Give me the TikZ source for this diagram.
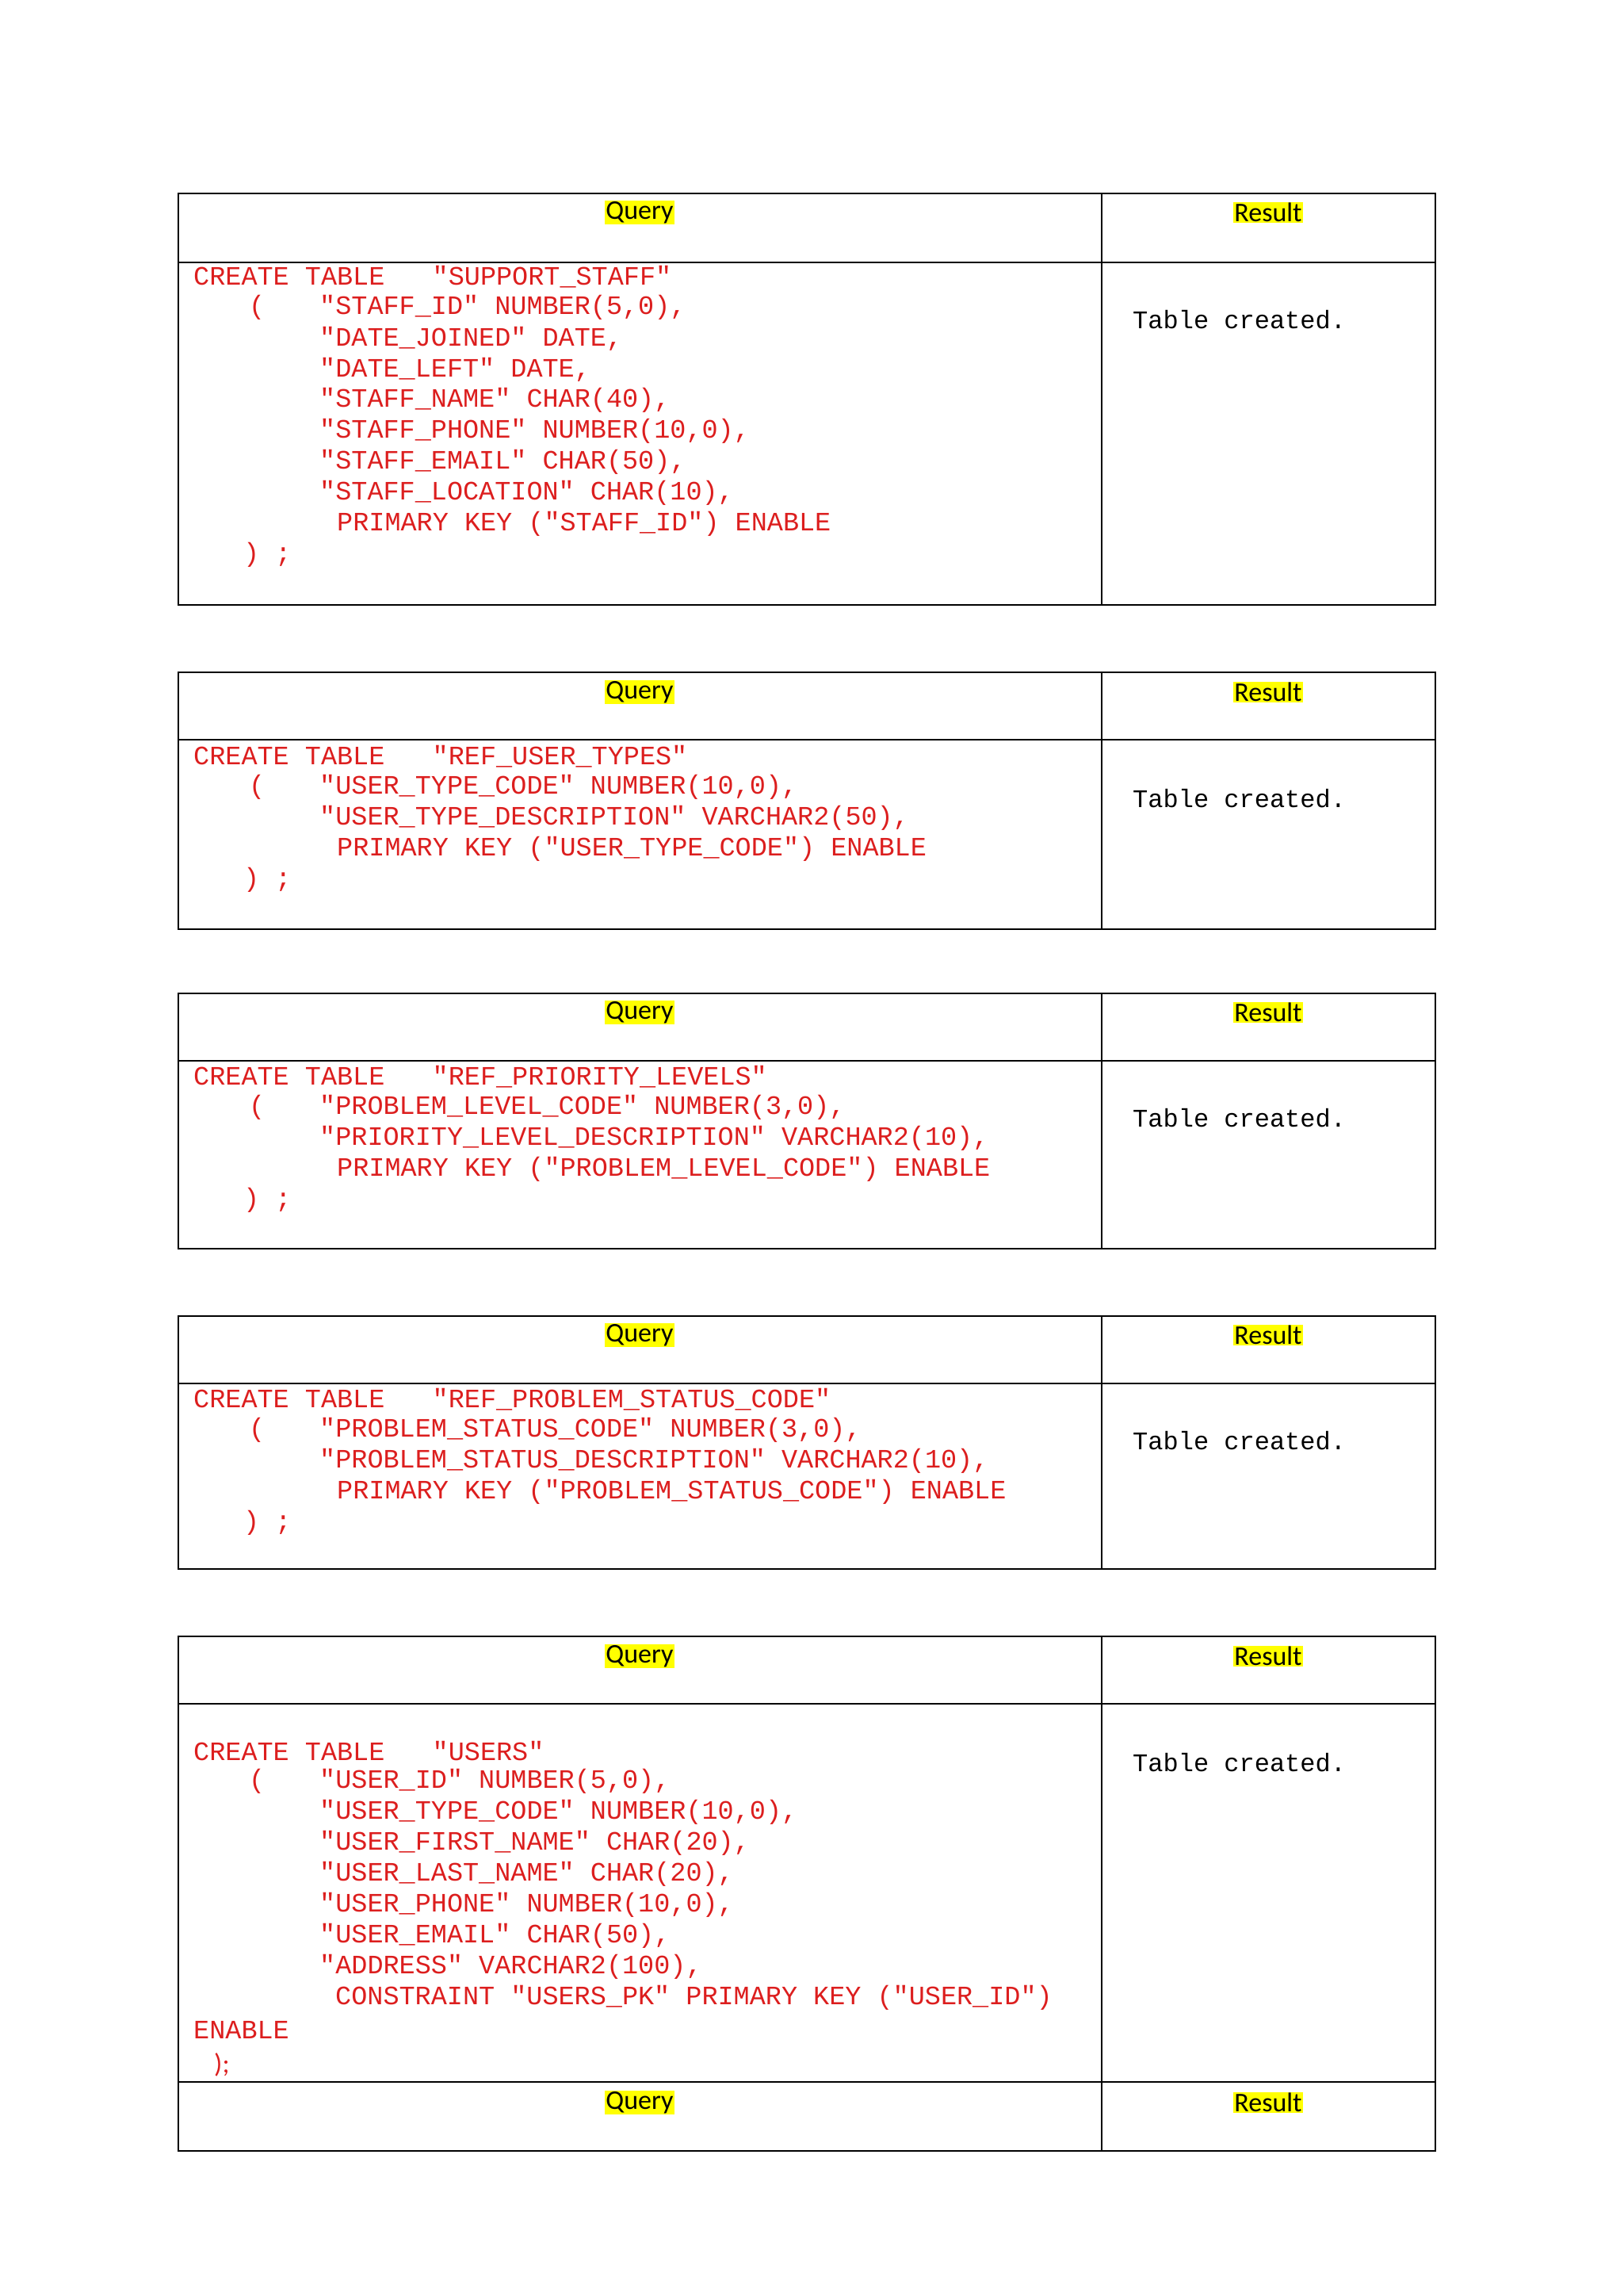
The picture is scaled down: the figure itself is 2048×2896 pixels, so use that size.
\documentclass[tikz,border=0pt]{standalone}
\usepackage{fontspec}
\setmainfont{Carlito}
\newfontfamily\codefont{Liberation Mono}
\definecolor{hl}{RGB}{255,255,0}
\definecolor{code}{RGB}{220,30,30}
\begin{document}
\begin{tikzpicture}[x=1pt,y=-1pt,
 frame/.style={draw=black,line width=2pt},
 hdr/.style={fill=hl,inner sep=1pt,font=\fontsize{34}{34}\selectfont},
 sql/.style={anchor=west,inner sep=0pt,text=code,font=\codefont\fontsize{33.5}{33.5}\selectfont},
 res/.style={anchor=west,inner sep=0pt,font=\codefont\fontsize{32}{32}\selectfont}]
\useasboundingbox (0,0) rectangle (2048,2896);
% table frames
\foreach \t/\h/\b in {244/331/763,848/933/1172,1253/1338/1575,1660/1745/1979,2064/2149/2626}{
 \draw[frame] (225,\t) rectangle (1811,\b);
 \draw[frame] (225,\h) -- (1811,\h);
 \draw[frame] (1390,\t) -- (1390,\b);
}
\draw[frame] (225,2626) rectangle (1811,2713);
\draw[frame] (1390,2626) -- (1390,2713);
% headers
\foreach \y [count=\i] in {268,873,1277,1684,2089,2652}{
 \node[hdr] (q\i) at (807,\y) {Query};
 \node[hdr] (r\i) at (1600,\y) {Result};
}
% table 1
\node[sql] (a1) at (244,349) {CREATE TABLE \ \ "SUPPORT\_STAFF"};
\node[sql] (a2) at (314,388) {(};
\node[sql] (a3) at (403,388) {"STAFF\_ID" NUMBER(5,0),};
\node[sql] (a4) at (403,427) {"DATE\_JOINED" DATE,};
\node[sql] (a5) at (403,466) {"DATE\_LEFT" DATE,};
\node[sql] (a6) at (403,505) {"STAFF\_NAME" CHAR(40),};
\node[sql] (a7) at (403,544) {"STAFF\_PHONE" NUMBER(10,0),};
\node[sql] (a8) at (403,583) {"STAFF\_EMAIL" CHAR(50),};
\node[sql] (a9) at (403,622) {"STAFF\_LOCATION" CHAR(10),};
\node[sql] (a10) at (425,661) {PRIMARY KEY ("STAFF\_ID") ENABLE};
\node[sql] (a11) at (307,700) {) ;};
\node[res] (ra) at (1429,403) {Table created.};
% table 2
\node[sql] (b1) at (244,954) {CREATE TABLE \ \ "REF\_USER\_TYPES"};
\node[sql] (b2) at (314,993) {(};
\node[sql] (b3) at (403,993) {"USER\_TYPE\_CODE" NUMBER(10,0),};
\node[sql] (b4) at (403,1032) {"USER\_TYPE\_DESCRIPTION" VARCHAR2(50),};
\node[sql] (b5) at (425,1071) {PRIMARY KEY ("USER\_TYPE\_CODE") ENABLE};
\node[sql] (b6) at (307,1110) {) ;};
\node[res] (rb) at (1429,1007) {Table created.};
% table 3
\node[sql] (c1) at (244,1358) {CREATE TABLE \ \ "REF\_PRIORITY\_LEVELS"};
\node[sql] (c2) at (314,1397) {(};
\node[sql] (c3) at (403,1397) {"PROBLEM\_LEVEL\_CODE" NUMBER(3,0),};
\node[sql] (c4) at (403,1436) {"PRIORITY\_LEVEL\_DESCRIPTION" VARCHAR2(10),};
\node[sql] (c5) at (425,1475) {PRIMARY KEY ("PROBLEM\_LEVEL\_CODE") ENABLE};
\node[sql] (c6) at (307,1514) {) ;};
\node[res] (rc) at (1429,1410) {Table created.};
% table 4
\node[sql] (d1) at (244,1765) {CREATE TABLE \ \ "REF\_PROBLEM\_STATUS\_CODE"};
\node[sql] (d2) at (314,1804) {(};
\node[sql] (d3) at (403,1804) {"PROBLEM\_STATUS\_CODE" NUMBER(3,0),};
\node[sql] (d4) at (403,1843) {"PROBLEM\_STATUS\_DESCRIPTION" VARCHAR2(10),};
\node[sql] (d5) at (425,1882) {PRIMARY KEY ("PROBLEM\_STATUS\_CODE") ENABLE};
\node[sql] (d6) at (307,1921) {) ;};
\node[res] (rd) at (1429,1817) {Table created.};
% table 5
\node[sql] (e1) at (244,2208) {CREATE TABLE \ \ "USERS"};
\node[sql] (e2) at (314,2247) {(};
\node[sql] (e3) at (403,2247) {"USER\_ID" NUMBER(5,0),};
\node[sql] (e4) at (403,2286) {"USER\_TYPE\_CODE" NUMBER(10,0),};
\node[sql] (e5) at (403,2325) {"USER\_FIRST\_NAME" CHAR(20),};
\node[sql] (e6) at (403,2364) {"USER\_LAST\_NAME" CHAR(20),};
\node[sql] (e7) at (403,2403) {"USER\_PHONE" NUMBER(10,0),};
\node[sql] (e8) at (403,2442) {"USER\_EMAIL" CHAR(50),};
\node[sql] (e9) at (403,2481) {"ADDRESS" VARCHAR2(100),};
\node[sql] (e10) at (423,2520) {CONSTRAINT "USERS\_PK" PRIMARY KEY ("USER\_ID")};
\node[sql] (e11) at (244,2560) {ENABLE};
\node[anchor=west,inner sep=0pt,text=code,font=\fontsize{34}{34}\selectfont] (e12) at (270,2604) {);};
\node[res] (re) at (1429,2223) {Table created.};
\end{tikzpicture}
\end{document}
